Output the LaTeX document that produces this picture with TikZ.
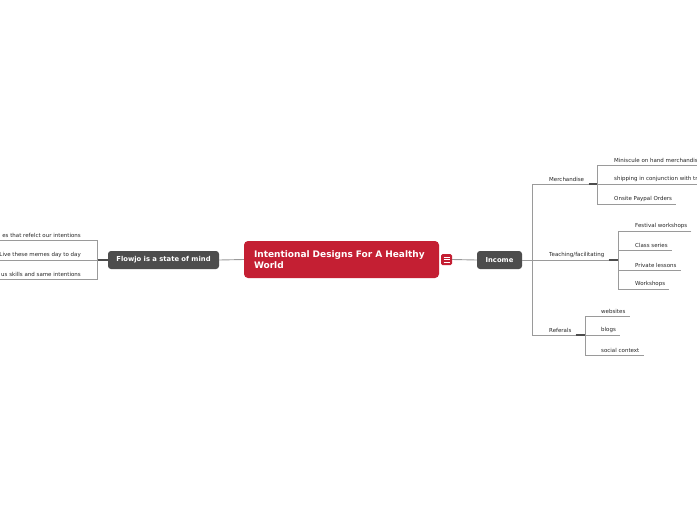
\documentclass[tikz,border=0pt]{standalone}
\usepackage{fontspec}
\setmainfont{DejaVu Sans}
\usepackage{xcolor}
\usepackage{tikz}

\definecolor{topicred}{HTML}{C41F33}
\definecolor{topicgray}{HTML}{4D4D4D}
\definecolor{linegray}{HTML}{9A9A9A}

\begin{document}
\begin{tikzpicture}[
    x=1pt, y=-1pt,
    central/.style={rectangle, rounded corners=4pt, fill=topicred, text=white, font=\bfseries\fontsize{9}{11}\selectfont, align=left, text width=175pt, inner xsep=10pt, minimum height=37pt},
    mainbox/.style={rectangle, rounded corners=3pt, fill=topicgray, text=white, font=\bfseries\fontsize{6.8}{8}\selectfont, minimum height=18pt, inner xsep=0pt},
    foldbox/.style={rectangle, rounded corners=1.5pt, fill=topicred, minimum size=11pt, inner sep=0pt},
    leaf/.style={font=\fontsize{5.5}{6.5}\selectfont, text=black!85, inner xsep=0pt, inner ysep=2.5pt},
    link/.style={draw=linegray, line width=0.9pt},
    stub/.style={draw=topicgray, line width=1.6pt}
]

% Canvas
\fill[white] (0,0) rectangle (697,520);
\useasboundingbox (0,0) rectangle (697,520);
\clip (0,0) rectangle (697,520);

% Central topic
\node[central] (root) at (341.5,259.5) {Intentional Designs For A Healthy\\World};
\node[foldbox] (fold) at (446.5,259.5) {};
\foreach \dy in {-2.5,0,2.5}
    \draw[white, line width=0.7pt] ([xshift=-3pt,yshift=\dy pt]fold.center) -- ([xshift=3pt,yshift=\dy pt]fold.center);

% Main topics
\node[mainbox, minimum width=45pt] (income) at (499.5,260) {Income};
\node[mainbox, minimum width=111pt] (flowjo) at (163.5,260) {Flowjo is a state of mind};

% Income branches
\coordinate (trunk) at (532.5,260);
\node[leaf, anchor=south west] (merch) at (549,184) {Merchandise};
\node[leaf, anchor=south west] (teach) at (549,260) {Teaching/facilitating};
\node[leaf, anchor=south west] (refer) at (549,335) {Referals};
\coordinate (merchfork) at (597.5,184);
\coordinate (teachfork) at (618.5,260);
\coordinate (referfork) at (585.5,335);

% Merchandise
\node[leaf, anchor=south west] (m1) at (614,165) {Miniscule on hand merchandis};
\node[leaf, anchor=south west] (m2) at (614,184) {shipping in conjunction with tr};
\node[leaf, anchor=south west] (m3) at (614,204) {Onsite Paypal Orders};

% Teaching/facilitating
\node[leaf, anchor=south west] (t1) at (635,231) {Festival workshops};
\node[leaf, anchor=south west] (t2) at (635,250) {Class series};
\node[leaf, anchor=south west] (t3) at (635,270) {Private lessons};
\node[leaf, anchor=south west] (t4) at (635,289) {Workshops};

% Referals
\node[leaf, anchor=south west] (r1) at (601,316) {websites};
\node[leaf, anchor=south west] (r2) at (601,335) {blogs};
\node[leaf, anchor=south west] (r3) at (601,355) {social context};

% Flowjo branches
\coordinate (lfork) at (97.5,260);
\node[leaf, anchor=south east] (l1) at (81,240) {es that refelct our intentions};
\node[leaf, anchor=south east] (l2) at (81,260) {Live these memes day to day};
\node[leaf, anchor=south east] (l3) at (81,279) {us skills and same intentions};

% Lines
\draw[link] (fold.east) -- (income.west);
\draw[link] (root.west) -- (flowjo.east);
\draw[link] (income.east) -- (trunk);
\draw[link] (merchfork) -| (trunk);
\draw[link] (trunk) |- (referfork);
\draw[link] (trunk) -- (teachfork);
\draw[stub] ([xshift=-9pt]merchfork) -- (merchfork);
\draw[stub] ([xshift=-10pt]teachfork) -- (teachfork);
\draw[stub] ([xshift=-10pt]referfork) -- (referfork);

\draw[link] ([xshift=4pt]m1.south east) -| (merchfork) |- ([xshift=4pt]m3.south east);
\draw[link] (merchfork) -- ([xshift=4pt]m2.south east);
\draw[link] ([xshift=4pt]t1.south east) -| (teachfork) |- ([xshift=4pt]t4.south east);
\draw[link] (teachfork |- t2.south) -- ([xshift=4pt]t2.south east);
\draw[link] (teachfork |- t3.south) -- ([xshift=4pt]t3.south east);
\draw[link] ([xshift=4pt]r1.south east) -| (referfork) |- ([xshift=4pt]r3.south east);
\draw[link] (referfork) -- ([xshift=4pt]r2.south east);

\draw[link] ([xshift=-10pt]l1.south west) -| (lfork) |- ([xshift=-10pt]l3.south west);
\draw[link] ([xshift=-10pt]l2.south west) -- (lfork);
\draw[stub] (lfork) -- (flowjo.west);

\end{tikzpicture}
\end{document}
